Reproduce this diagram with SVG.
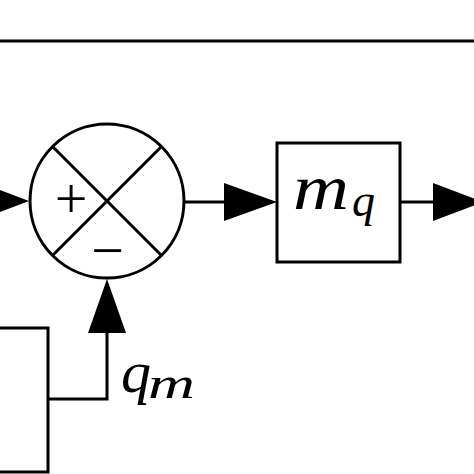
<svg xmlns="http://www.w3.org/2000/svg" width="474" height="474" viewBox="0 0 474 474">
<style>
.ln{fill:none;stroke:#000;stroke-width:3}
.ah{fill:#000;stroke:none}
.mi{font-family:"Liberation Serif",serif;font-style:italic;fill:#000}
.op{font-family:"Liberation Serif",serif;fill:#000;text-anchor:middle}
</style>
<rect width="474" height="474" fill="#fff"/>
<g id="topline"><line class="ln" x1="0" y1="41" x2="474" y2="41"/></g>
<g id="sum">
<circle class="ln" cx="107" cy="201" r="77"/>
<line class="ln" x1="52.5" y1="146.5" x2="161.5" y2="255.5"/>
<line class="ln" x1="161.5" y1="146.5" x2="52.5" y2="255.5"/>
<text class="op" x="71" y="218" font-size="58">+</text>
<text class="op" x="107.5" y="270" font-size="58">−</text>
</g>
<g id="block-mq">
<rect class="ln" x="277" y="143" width="123" height="119"/>
<text class="mi" x="293" y="209" font-size="64" textLength="56" lengthAdjust="spacingAndGlyphs">m</text>
<text class="mi" x="352" y="216" font-size="46">q</text>
</g>
<g id="block-bottom">
<rect class="ln" x="-20" y="328" width="68" height="144"/>
</g>
<g id="connectors">
<line class="ln" x1="0" y1="201" x2="-21" y2="201"/>
<polygon class="ah" points="-21,182 29,201 -21,220"/>
<line class="ln" x1="185" y1="202" x2="225" y2="202"/>
<polygon class="ah" points="224,183 277,202 224,221"/>
<line class="ln" x1="400" y1="202" x2="435" y2="202"/>
<polygon class="ah" points="433,183 483,202 433,221"/>
<polyline class="ln" points="48,399 107,399 107,330"/>
<polygon class="ah" points="88,333 107,279 126,333"/>
<text class="mi" x="121" y="392" font-size="60">q</text>
<text class="mi" x="148" y="398" font-size="44" textLength="47" lengthAdjust="spacingAndGlyphs">m</text>
</g>
</svg>
